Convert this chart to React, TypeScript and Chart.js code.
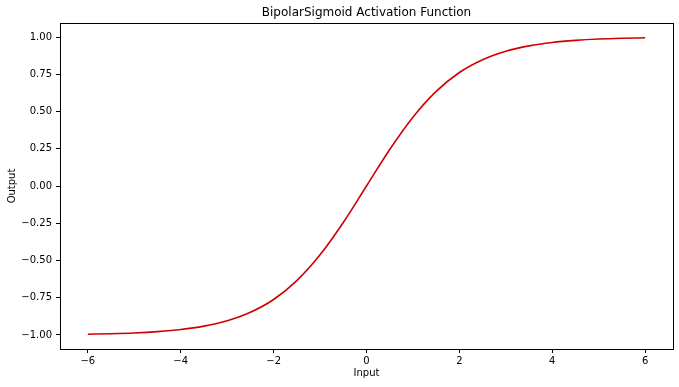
import React, { useEffect, useRef } from "react";
import { Chart, registerables } from "chart.js";

Chart.register(...registerables);

const inputs = [-6, -5.5, -5, -4.5, -4, -3.5, -3, -2.5, -2, -1.5, -1, -0.5, 0, 0.5, 1, 1.5, 2, 2.5, 3, 3.5, 4, 4.5, 5, 5.5, 6];
const outputs = [-0.995, -0.992, -0.987, -0.978, -0.964, -0.941, -0.905, -0.848, -0.762, -0.635, -0.462, -0.245, 0, 0.245, 0.462, 0.635, 0.762, 0.848, 0.905, 0.941, 0.964, 0.978, 0.987, 0.992, 0.995];
const xTicks = [-6, -4, -2, 0, 2, 4, 6];
const yTicks = [-1.0, -0.75, -0.5, -0.25, 0, 0.25, 0.5, 0.75, 1.0];

const fmt = (v: number, d: number) => (v < 0 ? "\u2212" + Math.abs(v).toFixed(d) : v.toFixed(d));

const frame = {
  id: "frame",
  afterDraw(chart: any) {
    const { ctx, chartArea: a } = chart;
    ctx.save();
    ctx.strokeStyle = "#000";
    ctx.lineWidth = 1;
    ctx.strokeRect(Math.round(a.left) + 0.5, Math.round(a.top) + 0.5, Math.round(a.right - a.left), Math.round(a.bottom - a.top));
    ctx.restore();
  },
};

export default function App() {
  const ref = useRef<HTMLCanvasElement>(null);
  useEffect(() => {
    Chart.defaults.font.family = "'DejaVu Sans'";
    Chart.defaults.font.size = 10;
    Chart.defaults.color = "#000";
    const chart = new Chart(ref.current!, {
      type: "line",
      data: {
        datasets: [
          {
            data: inputs.map((x, i) => ({ x, y: outputs[i] })),
            borderColor: "#d00000",
            borderWidth: 1.6,
            pointRadius: 0,
            cubicInterpolationMode: "monotone",
            fill: false,
          },
        ],
      },
      options: {
        animation: false,
        responsive: false,
        layout: { padding: { left: 0, right: 6, top: 0, bottom: 0 } },
        plugins: {
          legend: { display: false },
          tooltip: { enabled: false },
          title: {
            display: true,
            text: "BipolarSigmoid Activation Function",
            fullSize: false,
            color: "#000",
            font: { size: 12, weight: "normal", family: "'DejaVu Sans'" },
            padding: { top: 6, bottom: 2.6 },
          },
        },
        scales: {
          x: {
            type: "linear",
            min: -6.6,
            max: 6.6,
            afterBuildTicks: (s: any) => {
              s.ticks = xTicks.map((v) => ({ value: v }));
            },
            afterFit: (s: any) => {
              s.height = 38;
            },
            ticks: { callback: (v: any) => fmt(Number(v), 0), maxRotation: 0, autoSkip: false, padding: 2, color: "#000" },
            grid: { drawOnChartArea: false, drawTicks: true, tickLength: 4, tickColor: "#000" },
            border: { display: true, color: "#000" },
            title: { display: true, text: "Input", color: "#000", font: { size: 10 }, padding: { top: 0, bottom: 8 } },
          },
          y: {
            type: "linear",
            min: -1.0945,
            max: 1.0945,
            afterBuildTicks: (s: any) => {
              s.ticks = yTicks.map((v) => ({ value: v }));
            },
            afterFit: (s: any) => {
              s.width = 60;
            },
            ticks: { callback: (v: any) => fmt(Number(v), 2), autoSkip: false, padding: 4, color: "#000" },
            grid: { drawOnChartArea: false, drawTicks: true, tickLength: 4, tickColor: "#000" },
            border: { display: true, color: "#000" },
            title: { display: true, text: "Output", color: "#000", font: { size: 10 }, padding: { top: 6, bottom: 0 } },
          },
        },
      },
      plugins: [frame],
    } as any);
    return () => chart.destroy();
  }, []);
  return (
    <div style={{ position: "absolute", left: 0, top: 0, width: 679, height: 387, background: "#fff" }}>
      <canvas ref={ref} width={679} height={387} />
    </div>
  );
}
